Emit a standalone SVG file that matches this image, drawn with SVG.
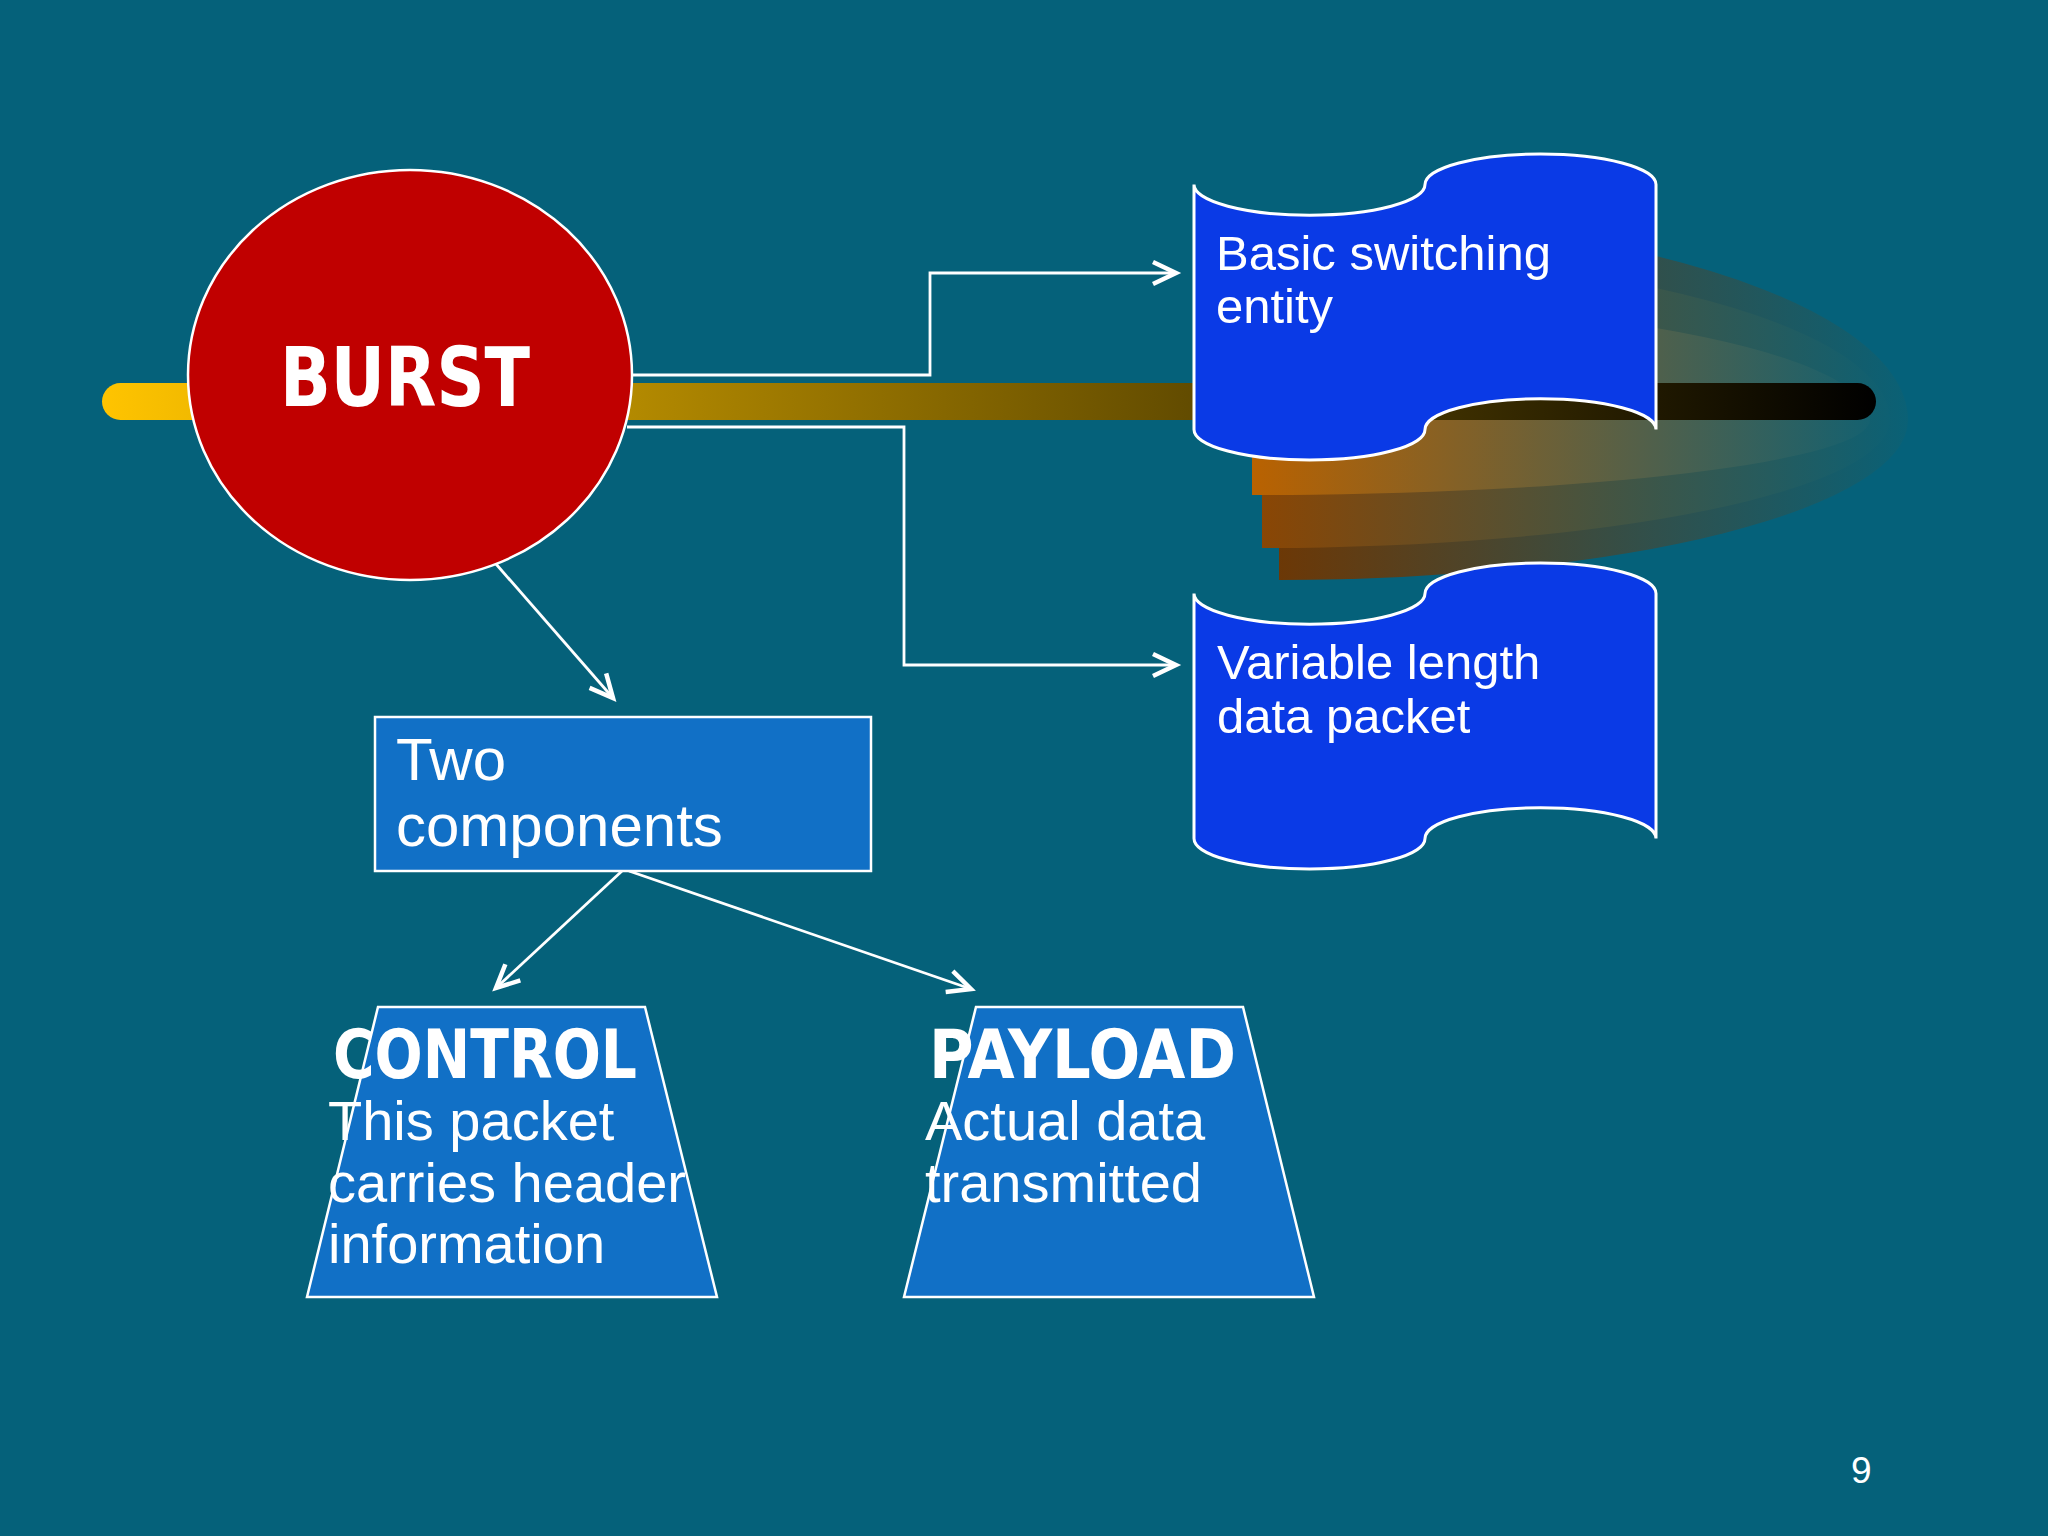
<svg xmlns="http://www.w3.org/2000/svg" width="2048" height="1536" viewBox="0 0 2048 1536">
<defs>
<style>
.txt{font-family:"Liberation Sans",Arial,sans-serif;fill:#ffffff}
.bold{font-family:"DejaVu Sans Condensed","Liberation Sans Narrow","Liberation Sans",sans-serif;font-weight:bold;fill:#ffffff}
.conn{fill:none;stroke:#ffffff;stroke-width:2.8}
.box{fill:#1170C6;stroke:#ffffff;stroke-width:2.5}
.banner{fill:#0A3AE6;stroke:#ffffff;stroke-width:3}
</style>
<marker id="arr" viewBox="0 0 40 40" markerWidth="40" markerHeight="40" refX="32" refY="20" orient="auto" markerUnits="userSpaceOnUse">
<path d="M9,9 L32,20 L9,31" fill="none" stroke="#ffffff" stroke-width="4.5" stroke-linejoin="miter"/>
</marker>
<linearGradient id="barG" gradientUnits="userSpaceOnUse" x1="102" y1="0" x2="1876" y2="0">
<stop offset="0" stop-color="#FFC400"/>
<stop offset="1" stop-color="#000000"/>
</linearGradient>
<linearGradient id="gA" gradientUnits="userSpaceOnUse" x1="1250" y1="0" x2="1910" y2="0">
<stop offset="0" stop-color="#BA6200"/>
<stop offset="0.6" stop-color="#52604A"/>
<stop offset="1" stop-color="#0A6176"/>
</linearGradient>
<linearGradient id="gB" gradientUnits="userSpaceOnUse" x1="1260" y1="0" x2="1910" y2="0">
<stop offset="0" stop-color="#8A4604"/>
<stop offset="0.6" stop-color="#3C5649"/>
<stop offset="1" stop-color="#0A6176"/>
</linearGradient>
<linearGradient id="gC" gradientUnits="userSpaceOnUse" x1="1278" y1="0" x2="1910" y2="0">
<stop offset="0" stop-color="#6C3806"/>
<stop offset="0.6" stop-color="#30504C"/>
<stop offset="1" stop-color="#0A6176"/>
</linearGradient>
</defs>
<rect x="0" y="0" width="2048" height="1536" fill="#05617A"/>

<g id="swoosh">
<path d="M1279,580 A629,160 0 0 0 1908,420 A629,205 0 0 0 1656,256 L1300,300 L1279,440 Z" fill="url(#gC)"/>
<path d="M1262,548 A628,128 0 0 0 1890,420 A628,169 0 0 0 1656,288 L1300,320 L1262,440 Z" fill="url(#gB)"/>
<path d="M1252,495 A618,75 0 0 0 1870,420 A618,121 0 0 0 1656,328 L1300,340 L1252,440 Z" fill="url(#gA)"/>
</g>

<g id="bar">
<rect x="102" y="383" width="1774" height="37" rx="18.5" ry="18.5" fill="url(#barG)"/>
</g>

<g id="connectors">
<path class="conn" d="M632,375 H930 V273 H1176" marker-end="url(#arr)"/>
<path class="conn" d="M627,427 H904 V665 H1176" marker-end="url(#arr)"/>
<path class="conn" d="M496,564 L613,698" marker-end="url(#arr)"/>
<path class="conn" d="M622,871 L496,988" marker-end="url(#arr)"/>
<path class="conn" d="M629,871 L971,989" marker-end="url(#arr)"/>
</g>

<g id="burst">
<ellipse cx="410" cy="375" rx="222" ry="205" fill="#C00000" stroke="#ffffff" stroke-width="2.5"/>
<text class="bold" x="280" y="406" font-size="82" textLength="250" lengthAdjust="spacingAndGlyphs">BURST</text>
</g>

<g id="basic">
<path class="banner" d="M1194,184.6 A115.5,30.6 0 0 0 1425,184.6 A115.5,30.6 0 0 1 1656,184.6 L1656,429.4 A115.5,30.6 0 0 0 1425,429.4 A115.5,30.6 0 0 1 1194,429.4 Z"/>
<text class="txt" font-size="49"><tspan x="1216" y="270">Basic switching</tspan><tspan x="1216" y="323">entity</tspan></text>
</g>

<g id="variable">
<path class="banner" d="M1194,593.6 A115.5,30.6 0 0 0 1425,593.6 A115.5,30.6 0 0 1 1656,593.6 L1656,838.4 A115.5,30.6 0 0 0 1425,838.4 A115.5,30.6 0 0 1 1194,838.4 Z"/>
<text class="txt" font-size="49"><tspan x="1217" y="679">Variable length</tspan><tspan x="1217" y="733">data packet</tspan></text>
</g>

<g id="two">
<rect class="box" x="375" y="717" width="496" height="154"/>
<text class="txt" font-size="60"><tspan x="396" y="780">Two</tspan><tspan x="396" y="846">components</tspan></text>
</g>

<g id="control">
<polygon class="box" points="378,1007 645,1007 717,1297 307,1297"/>
<text class="bold" x="333" y="1078" font-size="68" textLength="304" lengthAdjust="spacingAndGlyphs">CONTROL</text>
<text class="txt" font-size="56"><tspan x="328" y="1140">This packet</tspan><tspan x="328" y="1202">carries header</tspan><tspan x="328" y="1263">information</tspan></text>
</g>

<g id="payload">
<polygon class="box" points="976,1007 1243,1007 1314,1297 904,1297"/>
<text class="bold" x="929" y="1078" font-size="68" textLength="307" lengthAdjust="spacingAndGlyphs">PAYLOAD</text>
<text class="txt" font-size="56"><tspan x="925" y="1140">Actual data</tspan><tspan x="925" y="1202">transmitted</tspan></text>
</g>

<text class="txt" x="1851" y="1483" font-size="37">9</text>
</svg>
